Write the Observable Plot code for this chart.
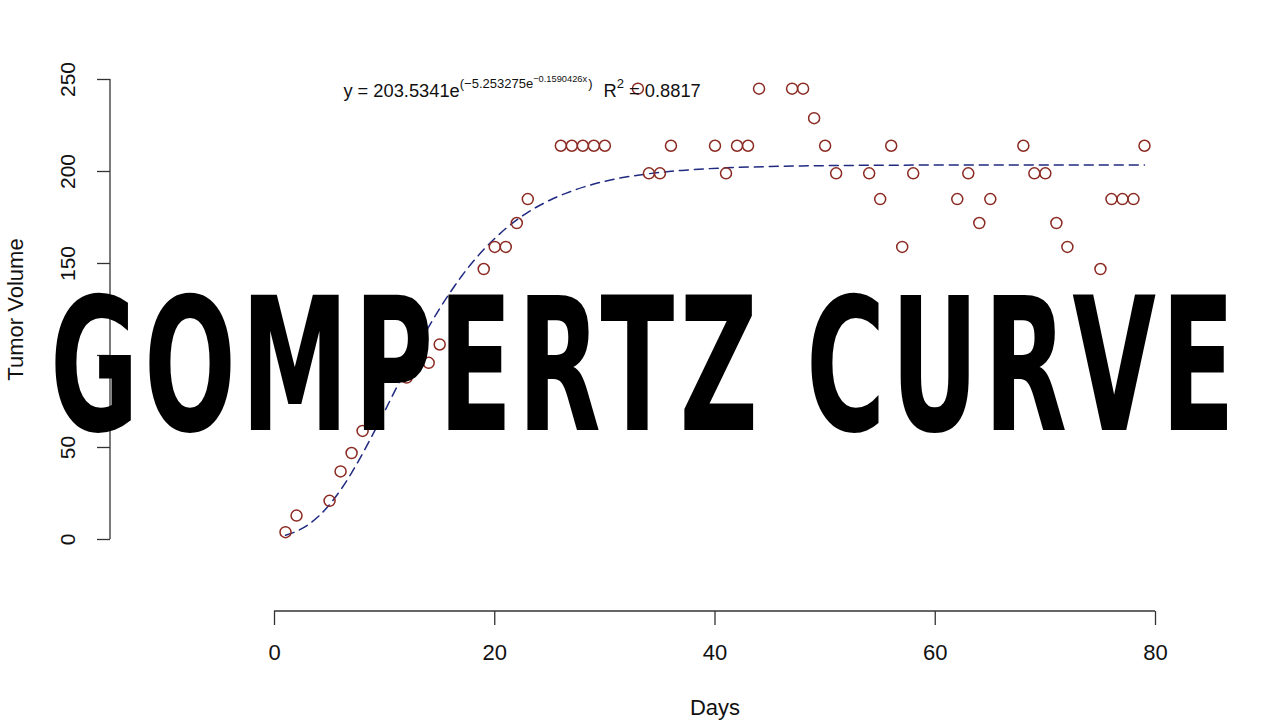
<!DOCTYPE html>
<html>
<head>
<meta charset="utf-8">
<script src="https://cdn.jsdelivr.net/npm/d3@7"></script>
<script src="https://cdn.jsdelivr.net/npm/@observablehq/plot@0.6"></script>
<style>
  html, body { margin: 0; padding: 0; background: #fff; }
  #wrap { position: relative; width: 1280px; height: 720px; overflow: hidden; }
  #overlay { position: absolute; left: 0; top: 0; pointer-events: none; }
</style>
</head>
<body>
<div id="wrap"></div>
<script>
// observed data
const days = [1,2,5,6,7,8,9,12,13,14,15,19,20,21,22,23,26,27,28,29,30,33,34,35,36,40,41,42,43,44,47,48,49,50,51,54,55,56,57,58,62,63,64,65,68,69,70,71,72,75,76,77,78,79];
const volume = [4,13,21,37,47,59,72,88,96,96,106,147,159,159,172,185,214,214,214,214,214,245,199,199,214,214,199,214,214,245,245,245,229,214,199,199,185,214,159,199,185,199,172,185,214,199,199,172,159,147,185,185,185,214];

// fitted curve values
const curveDays = [1,2,3,4,5,6,7,8,9,10,11,12,13,14,15,16,17,18,19,20,21,22,23,25,27,29,31,33,35,37,39,41,45,50,55,60,70,79];
const curveVals = [2.3,4.5,7.8,12.6,19.0,26.9,36.2,46.7,58.0,69.7,81.6,93.4,104.7,115.5,125.5,134.7,143.2,150.8,157.6,163.6,169.0,173.7,177.8,184.4,189.4,193.2,196.0,198.0,199.5,200.6,201.4,202.0,202.7,203.2,203.4,203.5,203.5,203.5];

// axes
const xTicks = [0,20,40,60,80];
const yTicks = [0,50,100,150,200,250];
const xLabel = "Days";
const yLabel = "Tumor Volume";
const title = "GOMPERTZ CURVE";

const points = days.map((d, i) => ({day: d, vol: volume[i]}));
const curve = curveDays.map((d, i) => ({day: d, vol: curveVals[i]}));

const FONT = "'Liberation Sans', Arial, Helvetica, sans-serif";

function axisLines(index, scales, values, dims) {
  const g = d3.create("svg:g").attr("stroke", "#333").attr("stroke-width", 1.3).attr("fill", "none");
  const x = scales.x, y = scales.y;
  const bottom = dims.height - dims.marginBottom;
  g.append("line").attr("x1", x(xTicks[0])).attr("x2", x(xTicks[xTicks.length-1]))
    .attr("y1", bottom).attr("y2", bottom);
  g.append("line").attr("x1", dims.marginLeft).attr("x2", dims.marginLeft)
    .attr("y1", y(yTicks[0])).attr("y2", y(yTicks[yTicks.length-1]));
  return g.node();
}

function equation(index, scales) {
  const x0 = scales.x(6.3), y0 = scales.y(240);
  const t = d3.create("svg:text").attr("x", x0).attr("y", y0).attr("text-anchor", "start")
    .attr("font-family", FONT).attr("font-size", 18.3).attr("fill", "#111");
  t.append("tspan").text("y = 203.5341e");
  t.append("tspan").attr("font-size", 13).attr("dy", -9).text("(\u22125.253275e");
  t.append("tspan").attr("font-size", 9.3).attr("dy", -6).text("\u22120.1590426x");
  t.append("tspan").attr("font-size", 13).attr("dy", 6).attr("dx", 1).text(")");
  t.append("tspan").attr("font-size", 18.3).attr("dy", 9).attr("dx", 11).text("R");
  t.append("tspan").attr("font-size", 13).attr("dy", -9).text("2");
  t.append("tspan").attr("font-size", 18.3).attr("dy", 9).text(" = 0.8817");
  return t.node();
}

const chart = Plot.plot({
  width: 1280,
  height: 720,
  marginLeft: 110,
  marginRight: 125,
  marginTop: 79,
  marginBottom: 109,
  style: {fontFamily: FONT, fontSize: "22px", color: "#111", background: "#fff"},
  x: {domain: [0, 80], range: [274, 1155]},
  y: {domain: [0, 250], range: [539, 79]},
  marks: [
    Plot.axisX({ticks: xTicks, tickSize: 14, tickPadding: 19, label: null, stroke: "#333", strokeWidth: 1.3}),
    Plot.axisY({ticks: yTicks, tickSize: 13, tickFormat: () => "", label: null, stroke: "#333", strokeWidth: 1.3}),
    axisLines,
    Plot.text(yTicks, {y: d => d, text: d => String(d), frameAnchor: "left", dx: -42, rotate: -90,
      textAnchor: "middle", lineAnchor: "middle", fontSize: 21, fill: "#111"}),
    Plot.text([xLabel], {x: 40, frameAnchor: "bottom", dy: 96, lineAnchor: "middle", fontSize: 22, fill: "#111"}),
    Plot.text([yLabel], {y: 125, frameAnchor: "left", dx: -95, rotate: -90, lineAnchor: "middle",
      textAnchor: "middle", fontSize: 22, fill: "#111"}),
    Plot.line(curve, {x: "day", y: "vol", stroke: "#202a80", strokeWidth: 1.5, strokeDasharray: "9,6", curve: "monotone-x"}),
    Plot.dot(points, {x: "day", y: "vol", r: 5.5, stroke: "#8b2a22", strokeWidth: 1.5, fill: "none"}),
    equation
  ]
});

const wrap = document.getElementById("wrap");
wrap.appendChild(chart);

// big overlay title: narrowed glyphs, spacing distributed to fill the width
const s = 0.65;
const ov = d3.select(wrap).append("svg").attr("id", "overlay").attr("width", 1280).attr("height", 720);
ov.append("g").attr("transform", `translate(50,430) scale(${s},1)`)
  .append("text")
  .attr("x", 0).attr("y", 0)
  .attr("textLength", 1185 / s).attr("lengthAdjust", "spacing")
  .attr("font-family", "'DejaVu Sans Condensed', 'DejaVu Sans', sans-serif")
  .attr("font-weight", "bold")
  .attr("font-size", 185)
  .attr("fill", "#000")
  .text(title);
</script>
</body>
</html>
